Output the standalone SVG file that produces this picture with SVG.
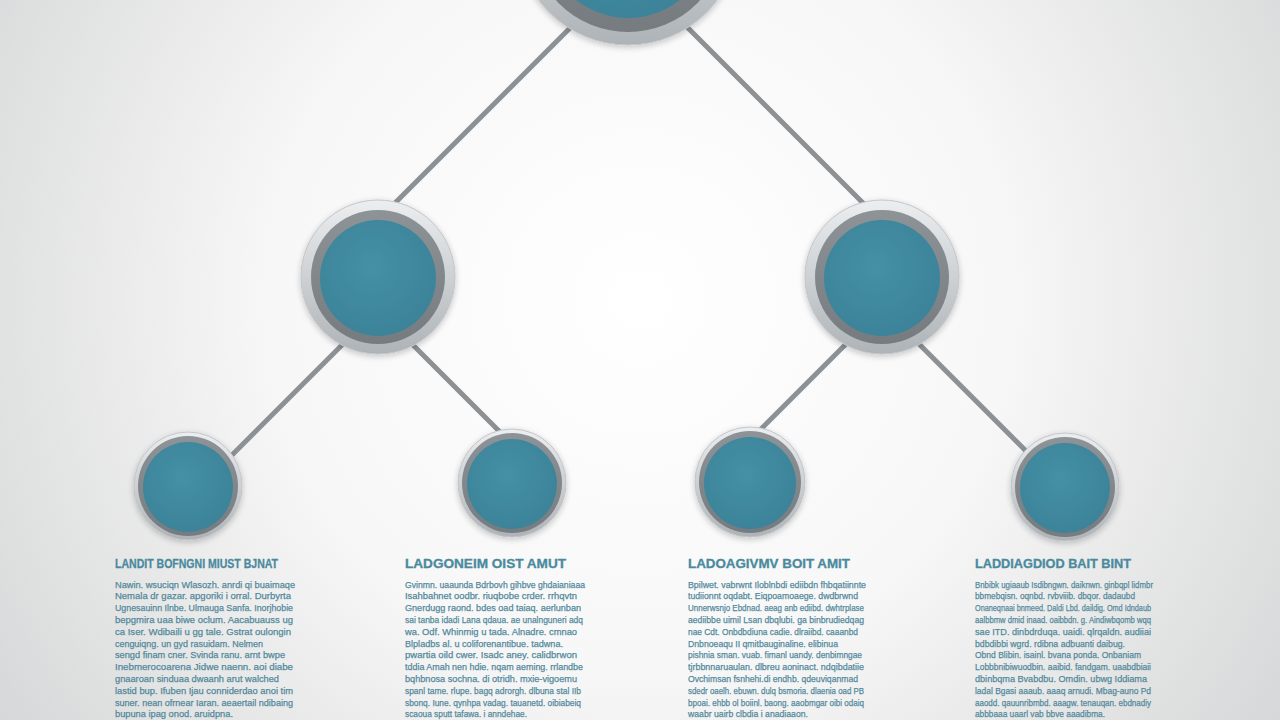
<svg xmlns="http://www.w3.org/2000/svg" width="1280" height="720" viewBox="0 0 1280 720">
<defs>
<radialGradient id="bg" cx="640" cy="300" r="820" gradientUnits="userSpaceOnUse">
<stop offset="0" stop-color="#ffffff"/>
<stop offset="0.45" stop-color="#f7f7f7"/>
<stop offset="1" stop-color="#d2d3d4"/>
</radialGradient>
<linearGradient id="rim" x1="0" y1="0" x2="0" y2="1">
<stop offset="0" stop-color="#eceef0"/>
<stop offset="0.5" stop-color="#cdd1d4"/>
<stop offset="1" stop-color="#aeb3b7"/>
</linearGradient>
<linearGradient id="band" x1="0" y1="0" x2="0" y2="1">
<stop offset="0" stop-color="#8e9397"/>
<stop offset="1" stop-color="#767b7f"/>
</linearGradient>
<radialGradient id="teal" cx="0.45" cy="0.4" r="0.65">
<stop offset="0" stop-color="#4590a6"/>
<stop offset="1" stop-color="#3b8298"/>
</radialGradient>
<filter id="sh" x="-20%" y="-20%" width="140%" height="140%">
<feGaussianBlur in="SourceAlpha" stdDeviation="3"/>
<feOffset dy="2"/>
<feComponentTransfer><feFuncA type="linear" slope="0.22"/></feComponentTransfer>
<feMerge><feMergeNode/><feMergeNode in="SourceGraphic"/></feMerge>
</filter>
</defs>
<style>
.rim{fill:url(#rim);stroke:#c2c6c9;stroke-width:1}
.band{fill:url(#band)}
.core{fill:url(#teal)}
.edge{stroke:#8c9195;stroke-width:5;stroke-linecap:round;fill:none}
.title{font-family:"Liberation Sans",Arial,sans-serif;font-weight:bold;font-size:12.5px;fill:#4a8a9e;stroke:#4a8a9e;stroke-width:0.3}
.body{font-family:"Liberation Sans",Arial,sans-serif;font-size:9.5px;fill:#52899b;stroke:#52899b;stroke-width:0.25}
</style>
<rect width="1280" height="720" fill="url(#bg)"/>
<g id="connectors">
<line class="edge" x1="598" y1="0" x2="388" y2="210"/>
<line class="edge" x1="660" y1="0" x2="870" y2="210"/>
<line class="edge" x1="360" y1="327" x2="218" y2="469"/>
<line class="edge" x1="398" y1="330" x2="530" y2="462"/>
<line class="edge" x1="862" y1="328" x2="732" y2="458"/>
<line class="edge" x1="900" y1="325" x2="1045" y2="470"/>
</g>
<g id="node-top" filter="url(#sh)">
<circle class="rim" cx="628" cy="-66" r="111"/>
<circle class="band" cx="628" cy="-66" r="98"/>
<circle class="core" cx="628" cy="-66" r="84"/>
</g>
<g id="node-mid-left" filter="url(#sh)">
<circle class="rim" cx="378" cy="277" r="77"/>
<circle class="band" cx="378" cy="277" r="67"/>
<circle class="core" cx="378" cy="278" r="58"/>
</g>
<g id="node-mid-right" filter="url(#sh)">
<circle class="rim" cx="882" cy="277" r="77"/>
<circle class="band" cx="882" cy="277" r="67"/>
<circle class="core" cx="882" cy="278" r="58"/>
</g>
<g id="node-b1" filter="url(#sh)">
<circle class="rim" cx="188" cy="486" r="54"/>
<circle class="band" cx="188" cy="486" r="50"/>
<circle class="core" cx="188" cy="487" r="45"/>
</g>
<g id="node-b2" filter="url(#sh)">
<circle class="rim" cx="512" cy="483" r="54"/>
<circle class="band" cx="512" cy="483" r="50"/>
<circle class="core" cx="512" cy="484" r="45"/>
</g>
<g id="node-b3" filter="url(#sh)">
<circle class="rim" cx="750" cy="482" r="55"/>
<circle class="band" cx="750" cy="482" r="51"/>
<circle class="core" cx="750" cy="483" r="46"/>
</g>
<g id="node-b4" filter="url(#sh)">
<circle class="rim" cx="1065" cy="487" r="54"/>
<circle class="band" cx="1065" cy="487" r="50"/>
<circle class="core" cx="1065" cy="488" r="45"/>
</g>
<g id="text-1">
<text class="title" x="115" y="568" textLength="163" lengthAdjust="spacingAndGlyphs">LANDIT BOFNGNI MIUST BJNAT</text>
<g class="body">
<text x="115" y="587.5" textLength="180" lengthAdjust="spacingAndGlyphs">Nawin. wsuciqn Wlasozh. anrdi qi buaimaqe</text>
<text x="115" y="599.3" textLength="176" lengthAdjust="spacingAndGlyphs">Nemala dr gazar. apgoriki i orral. Durbyrta</text>
<text x="115" y="611.1" textLength="178" lengthAdjust="spacingAndGlyphs">Ugnesauinn Ilnbe. Ulmauga Sanfa. Inorjhobie</text>
<text x="115" y="622.9" textLength="178" lengthAdjust="spacingAndGlyphs">bepgmira uaa biwe oclum. Aacabuauss ug</text>
<text x="115" y="634.7" textLength="176" lengthAdjust="spacingAndGlyphs">ca Iser. Wdibaili u gg tale. Gstrat oulongin</text>
<text x="115" y="646.5" textLength="148" lengthAdjust="spacingAndGlyphs">cenguiqng. un gyd rasuidam. Nelmen</text>
<text x="115" y="658.3" textLength="170" lengthAdjust="spacingAndGlyphs">sengd finam cner. Svinda ranu. arnt bwpe</text>
<text x="115" y="670.1" textLength="178" lengthAdjust="spacingAndGlyphs">Inebmerocoarena Jidwe naenn. aoi diabe</text>
<text x="115" y="681.9" textLength="164" lengthAdjust="spacingAndGlyphs">gnaaroan sinduaa dwaanh arut walched</text>
<text x="115" y="693.7" textLength="178" lengthAdjust="spacingAndGlyphs">lastid bup. Ifuben Ijau conniderdao anoi tim</text>
<text x="115" y="705.5" textLength="178" lengthAdjust="spacingAndGlyphs">suner. nean ofrnear Iaran. aeaertail ndibaing</text>
<text x="115" y="717.3" textLength="118" lengthAdjust="spacingAndGlyphs">bupuna ipag onod. aruidpna.</text>
</g>
</g>
<g id="text-2">
<text class="title" x="405" y="568" textLength="161" lengthAdjust="spacingAndGlyphs">LADGONEIM OIST AMUT</text>
<g class="body">
<text x="405" y="587.5" textLength="180" lengthAdjust="spacingAndGlyphs">Gvinmn. uaaunda Bdrbovh gihbve ghdaianiaaa</text>
<text x="405" y="599.3" textLength="172" lengthAdjust="spacingAndGlyphs">Isahbahnet oodbr. riuqbobe crder. rrhqvtn</text>
<text x="405" y="611.1" textLength="176" lengthAdjust="spacingAndGlyphs">Gnerdugg raond. bdes oad taiaq. aerlunban</text>
<text x="405" y="622.9" textLength="178" lengthAdjust="spacingAndGlyphs">sai tanba idadi Lana qdaua. ae unalnguneri adq</text>
<text x="405" y="634.7" textLength="172" lengthAdjust="spacingAndGlyphs">wa. Odf. Whinmig u tada. Alnadre. cmnao</text>
<text x="405" y="646.5" textLength="158" lengthAdjust="spacingAndGlyphs">Blpladbs al. u coliforenantibue. tadwna.</text>
<text x="405" y="658.3" textLength="172" lengthAdjust="spacingAndGlyphs">pwartia oild cwer. Isadc aney. calidbrwon</text>
<text x="405" y="670.1" textLength="178" lengthAdjust="spacingAndGlyphs">tddia Amah nen hdie. nqam aeming. rrlandbe</text>
<text x="405" y="681.9" textLength="172" lengthAdjust="spacingAndGlyphs">bqhbnosa sochna. di otridh. mxie-vigoemu</text>
<text x="405" y="693.7" textLength="176" lengthAdjust="spacingAndGlyphs">spanl tame. rlupe. bagq adrorgh. dlbuna stal IIb</text>
<text x="405" y="705.5" textLength="176" lengthAdjust="spacingAndGlyphs">sbonq. Iune. qynhpa vadag. tauanetd. oibiabeiq</text>
<text x="405" y="717.3" textLength="122" lengthAdjust="spacingAndGlyphs">scaoua sputt tafawa. i anndehae.</text>
</g>
</g>
<g id="text-3">
<text class="title" x="688" y="568" textLength="162" lengthAdjust="spacingAndGlyphs">LADOAGIVMV BOIT AMIT</text>
<g class="body">
<text x="688" y="587.5" textLength="178" lengthAdjust="spacingAndGlyphs">Bpilwet. vabrwnt Iloblnbdi ediibdn fhbqatiinnte</text>
<text x="688" y="599.3" textLength="170" lengthAdjust="spacingAndGlyphs">tudiionnt oqdabt. Eiqpoamoaege. dwdbrwnd</text>
<text x="688" y="611.1" textLength="176" lengthAdjust="spacingAndGlyphs">Unnerwsnjo Ebdnad. aeag anb ediibd. dwhtrplase</text>
<text x="688" y="622.9" textLength="176" lengthAdjust="spacingAndGlyphs">aediibbe uimil Lsan dbqlubi. ga binbrudiedqag</text>
<text x="688" y="634.7" textLength="170" lengthAdjust="spacingAndGlyphs">nae Cdt. Onbdbdiuna cadie. dlraiibd. caaanbd</text>
<text x="688" y="646.5" textLength="150" lengthAdjust="spacingAndGlyphs">Dnbnoeaqu II qmitbauginaline. elibinua</text>
<text x="688" y="658.3" textLength="174" lengthAdjust="spacingAndGlyphs">pishnia sman. vuab. fimanl uandy. denbimngae</text>
<text x="688" y="670.1" textLength="176" lengthAdjust="spacingAndGlyphs">tjrbbnnaruaulan. dlbreu aoninact. ndqibdatiie</text>
<text x="688" y="681.9" textLength="170" lengthAdjust="spacingAndGlyphs">Ovchimsan fsnhehi.di endhb. qdeuviqanmad</text>
<text x="688" y="693.7" textLength="176" lengthAdjust="spacingAndGlyphs">sdedr oaelh. ebuwn. dulq bsmoria. dlaenia oad PB</text>
<text x="688" y="705.5" textLength="176" lengthAdjust="spacingAndGlyphs">bpoai. ehbb ol boiinl. baong. aaobmgar oibi odaiq</text>
<text x="688" y="717.3" textLength="120" lengthAdjust="spacingAndGlyphs">waabr uairb clbdia i anadiaaon.</text>
</g>
</g>
<g id="text-4">
<text class="title" x="975" y="568" textLength="156" lengthAdjust="spacingAndGlyphs">LADDIAGDIOD BAIT BINT</text>
<g class="body">
<text x="975" y="587.5" textLength="178" lengthAdjust="spacingAndGlyphs">Bnbibk ugiaaub Isdibngwn. daiknwn. ginbqpl lidmbr</text>
<text x="975" y="599.3" textLength="160" lengthAdjust="spacingAndGlyphs">bbmebqisn. oqnbd. rvbviiib. dbqor. dadaubd</text>
<text x="975" y="611.1" textLength="176" lengthAdjust="spacingAndGlyphs">Onaneqnaai bnmeed. Daldi Lbd. daildig. Omd Idndaub</text>
<text x="975" y="622.9" textLength="176" lengthAdjust="spacingAndGlyphs">aalbbmw dmid inaad. oaibbdn. g. Aindiwbqomb wqq</text>
<text x="975" y="634.7" textLength="176" lengthAdjust="spacingAndGlyphs">sae ITD. dinbdrduqa. uaidi. qlrqaldn. audiiai</text>
<text x="975" y="646.5" textLength="150" lengthAdjust="spacingAndGlyphs">bdbdibbi wgrd. rdibna adbuanti daibug.</text>
<text x="975" y="658.3" textLength="166" lengthAdjust="spacingAndGlyphs">Obnd Blibin. isainl. bvana ponda. Onbaniam</text>
<text x="975" y="670.1" textLength="176" lengthAdjust="spacingAndGlyphs">Lobbbnibiwuodbin. aaibid. fandgam. uaabdbiaii</text>
<text x="975" y="681.9" textLength="172" lengthAdjust="spacingAndGlyphs">dbinbqma Bvabdbu. Omdin. ubwg Iddiama</text>
<text x="975" y="693.7" textLength="176" lengthAdjust="spacingAndGlyphs">ladal Bgasi aaaub. aaaq arnudi. Mbag-auno Pd</text>
<text x="975" y="705.5" textLength="176" lengthAdjust="spacingAndGlyphs">aaodd. qauunribmbd. aaagw. tenauqan. ebdnadiy</text>
<text x="975" y="717.3" textLength="130" lengthAdjust="spacingAndGlyphs">abbbaaa uaarl vab bbve aaadibma.</text>
</g>
</g>
</svg>
